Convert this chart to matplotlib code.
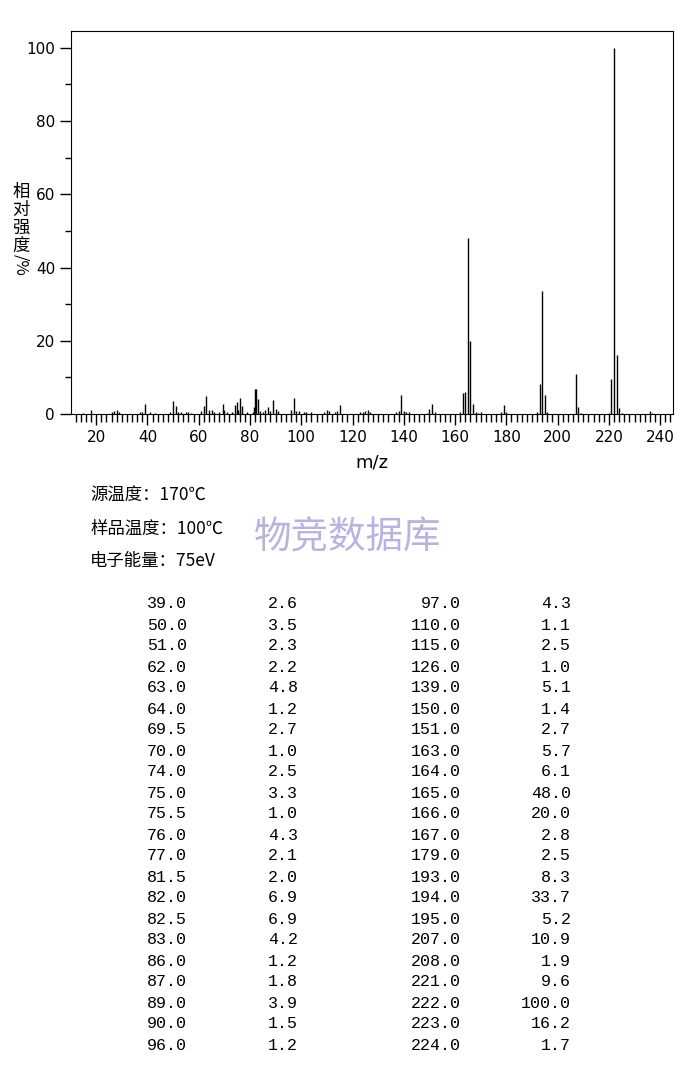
import matplotlib
matplotlib.use("Agg")
import matplotlib.pyplot as plt
from matplotlib.ticker import MultipleLocator

mz = [39.0,50.0,51.0,62.0,63.0,64.0,69.5,70.0,74.0,75.0,75.5,76.0,77.0,81.5,82.0,82.5,83.0,86.0,87.0,89.0,90.0,96.0,
      97.0,110.0,115.0,126.0,139.0,150.0,151.0,163.0,164.0,165.0,166.0,167.0,179.0,193.0,194.0,195.0,207.0,208.0,221.0,222.0,223.0,224.0]
inten = [2.6,3.5,2.3,2.2,4.8,1.2,2.7,1.0,2.5,3.3,1.0,4.3,2.1,2.0,6.9,6.9,4.2,1.2,1.8,3.9,1.5,1.2,
         4.3,1.1,2.5,1.0,5.1,1.4,2.7,5.7,6.1,48.0,20.0,2.8,2.5,8.3,33.7,5.2,10.9,1.9,9.6,100.0,16.2,1.7]
minor_mz = [15,18,26,27,28,29,37,38,41,43,49,52,53,55,56,57,61,65,66,68,71,73,79,81,84,85,88,91,98,99,101,102,104,
            109,111,113,114,123,124,125,127,137,138,140,141,142,149,152,162,168,169,170,178,180,192,196,209,220,225,236,237]
minor_int = [0.3,1.0,0.5,0.8,1.0,0.5,0.5,0.6,0.5,0.4,0.5,0.6,0.5,0.5,0.5,0.4,0.8,1.2,0.6,0.6,0.5,0.5,0.5,0.6,0.8,0.5,0.8,0.8,0.9,0.8,0.6,0.5,0.6,
             0.5,0.9,0.5,0.8,0.5,0.5,0.7,0.5,0.6,0.7,0.9,0.5,0.5,0.4,0.6,0.5,0.5,0.4,0.5,0.5,0.5,0.5,0.5,0.4,0.4,0.4,0.8,0.4]
info = ["源温度：170℃", "样品温度：100℃", "电子能量：75eV"]
CJK = ["Noto Sans CJK SC", "DejaVu Sans"]

fig = plt.figure(figsize=(6.96, 10.77), dpi=100)
W, H = 696, 1077
ax = fig.add_axes([71/W, 1-414/H, (673-71)/W, (414-31)/H])
ax.vlines(mz, 0, inten, color="black", lw=1)
ax.vlines(minor_mz, 0, minor_int, color="black", lw=1)
ax.set_xlim(10.2, 245)
ax.set_ylim(0, 104.6)
ax.xaxis.set_major_locator(MultipleLocator(20))
ax.xaxis.set_minor_locator(MultipleLocator(2))
ax.yaxis.set_major_locator(MultipleLocator(20))
ax.yaxis.set_minor_locator(MultipleLocator(10))
ax.tick_params(which="major", direction="out", length=8, width=1, labelsize=11)
ax.tick_params(which="minor", direction="out", length=6, width=1)
ax.tick_params(axis="y", which="minor", length=4)
for s in ax.spines.values():
    s.set_linewidth(0.8)
ax.set_xlabel("m/z", fontsize=13, labelpad=6)

for i, ch in enumerate("相对强度"):
    fig.text(21/W, 1-(192+i*18)/H, ch, fontsize=12.5, ha="center", va="center", family=CJK)
fig.text(21/W, 1-265/H, "/%", fontsize=12, ha="center", va="center", rotation=270, family=CJK)

for i, t in enumerate(info):
    fig.text(90/W, 1-(496+i*32.5)/H, t, fontsize=12.5, va="center", family=CJK)
fig.text(348/W, 1-538/H, "物竞数据库", fontsize=27, color="#b8b4e0", ha="center", va="center",
         family=["Noto Sans CJK SC"])

half = 22
for i in range(half):
    y = 1-(604+i*21.0)/H
    fig.text(187/W, y, f"{mz[i]:.1f}", ha="right", va="center", fontsize=12, family="Liberation Mono")
    fig.text(298/W, y, f"{inten[i]:.1f}", ha="right", va="center", fontsize=12, family="Liberation Mono")
    fig.text(461/W, y, f"{mz[i+half]:.1f}", ha="right", va="center", fontsize=12, family="Liberation Mono")
    fig.text(571/W, y, f"{inten[i+half]:.1f}", ha="right", va="center", fontsize=12, family="Liberation Mono")

fig.savefig("out.png", dpi=100)
